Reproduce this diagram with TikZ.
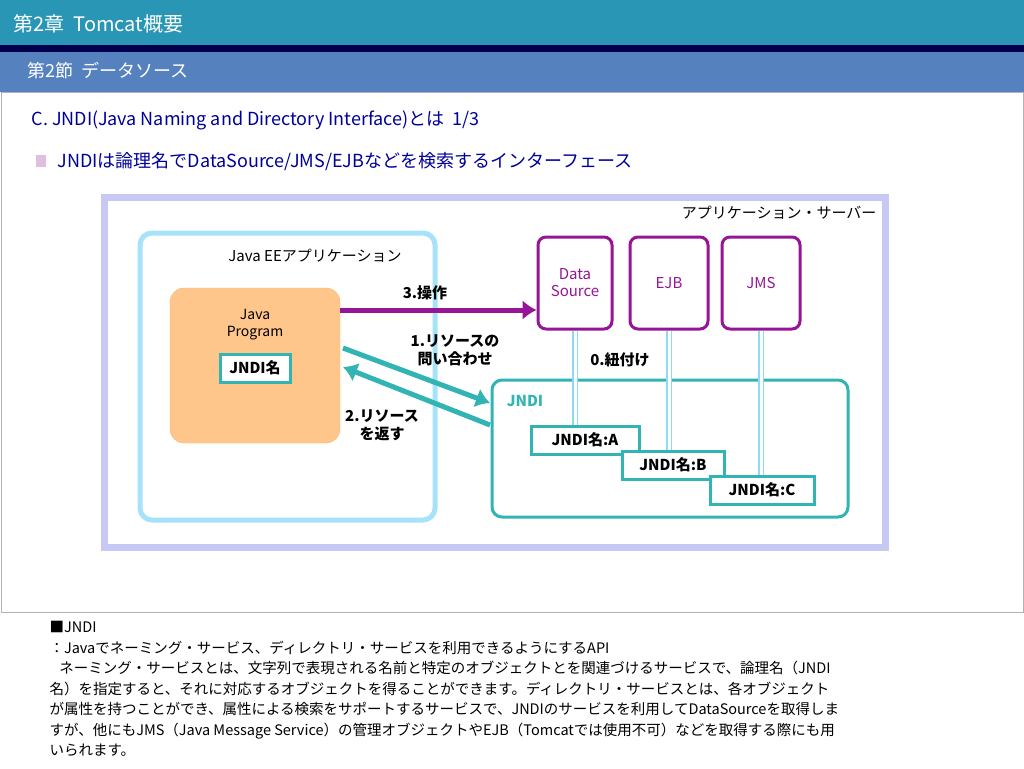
\documentclass[tikz,border=0pt]{standalone}
\usepackage{fontspec}
\usetikzlibrary{arrows.meta}
\setmainfont{Noto Sans CJK JP}
\definecolor{hdr}{RGB}{40,150,180}
\definecolor{sub}{RGB}{85,130,190}
\definecolor{pur}{RGB}{150,20,150}
\definecolor{tl}{RGB}{50,180,180}
\definecolor{lav}{RGB}{200,200,245}
\begin{document}
\begin{tikzpicture}[x=1pt,y=-1pt,
  purp/.style={draw=pur,line width=3pt,rounded corners=8pt,fill=white,text=pur,font=\fontsize{15}{17}\selectfont,align=center},
  tealbox/.style={draw=tl,line width=3pt,fill=white,font=\fontsize{15}{17}\selectfont\bfseries,inner sep=2pt},
  lbl/.style={font=\fontsize{15}{18}\selectfont\bfseries,align=center},
  dbl/.style={double=white,draw=cyan!45,line width=1.2pt,double distance=3pt}]
\useasboundingbox (0,0) rectangle (1024,768);
\fill[white] (0,0) rectangle (1024,768);
\fill[hdr] (0,0) rectangle (1024,45);
\fill[black!70!blue] (0,45) rectangle (1024,52);
\fill[sub] (0,52) rectangle (1024,92);
\draw[gray!60] (1,92) rectangle (1023,612);
\node[anchor=west,white,font=\fontsize{20}{22}\selectfont] (t1) at (10,24) {第2章\ \ Tomcat概要};
\node[anchor=west,white,font=\fontsize{18}{20}\selectfont] (t2) at (24,71) {第2節\ \ データソース};
\node[anchor=west,blue!60!black,font=\fontsize{18}{20}\selectfont] (t3) at (28,120) {C. JNDI(Java Naming and Directory Interface)とは\ \ 1/3};
\fill[violet!25] (36,155) rectangle (46,167);
\node[anchor=west,blue!60!black,font=\fontsize{18}{20}\selectfont] (t4) at (54,162) {JNDIは論理名でDataSource/JMS/EJBなどを検索するインターフェース};
% diagram
\draw[lav,line width=7pt] (104,197) rectangle (885,547);
\node[anchor=east,font=\fontsize{15}{17}\selectfont] (as) at (880,213) {アプリケーション・サーバー};
\draw[cyan!35,line width=5pt,rounded corners=12pt] (140,233) rectangle (435,520);
\node[font=\fontsize{15}{17}\selectfont] (ee) at (315,256) {Java EEアプリケーション};
\draw[orange!60,fill=orange!45,rounded corners=14pt] (170,288) rectangle (340,443);
\node[font=\fontsize{14}{17}\selectfont,align=center] (jp) at (255,325) {Java\\Program};
\node[tealbox,minimum width=70pt,minimum height=28pt] (jn) at (255,368) {JNDI名};
\node[purp,minimum width=74pt,minimum height=92pt] (ds) at (575,283) {Data\\Source};
\node[purp,minimum width=78pt,minimum height=92pt] (ejb) at (669,283) {EJB};
\node[purp,minimum width=78pt,minimum height=92pt] (jms) at (761,283) {JMS};
\draw[tl,line width=3pt,rounded corners=10pt] (492,380) rectangle (848,517);
\node[tl,font=\fontsize{15}{17}\selectfont\bfseries] (jl) at (525,401) {JNDI};
\node[tealbox,minimum width=108pt,minimum height=28pt] (a) at (585,440) {JNDI名:A};
\node[tealbox,minimum width=102pt,minimum height=28pt] (b) at (673,465) {JNDI名:B};
\node[tealbox,minimum width=104pt,minimum height=28pt] (c) at (762,490) {JNDI名:C};
\draw[dbl] (ds.south) -- (ds.south|-a.north);
\draw[dbl] (ejb.south) -- (ejb.south|-b.north);
\draw[dbl] (jms.south) -- (jms.south|-c.north);
\coordinate (p1) at (340,310);
\draw[pur,line width=5pt,-{Latex[length=14pt,width=20pt]}] (p1) -- (ds.west|-p1);
\coordinate (q1) at (343,348); \coordinate (q2) at (490,403);
\coordinate (r1) at (490,425); \coordinate (r2) at (343,367);
\draw[tl,line width=5pt,-{Latex[length=14pt,width=20pt]}] (q1) -- (q2);
\draw[tl,line width=5pt,-{Latex[length=14pt,width=20pt]}] (r1) -- (r2);
\node[lbl] (l3) at (425,293) {3.操作};
\node[lbl] (l1) at (455,350) {1.リソースの\\問い合わせ};
\node[lbl] (l2) at (382,425) {2.リソース\\を返す};
\node[lbl] (l0) at (620,360) {0.紐付け};
\node[anchor=north west,align=left,font=\fontsize{14.5}{20.5}\selectfont] (notes) at (46,618) {■JNDI\\：Javaでネーミング・サービス、ディレクトリ・サービスを利用できるようにするAPI\\
\ \ \ ネーミング・サービスとは、文字列で表現される名前と特定のオブジェクトとを関連づけるサービスで、論理名（JNDI\\
名）を指定すると、それに対応するオブジェクトを得ることができます。ディレクトリ・サービスとは、各オブジェクト\\
が属性を持つことができ、属性による検索をサポートするサービスで、JNDIのサービスを利用してDataSourceを取得しま\\
すが、他にもJMS（Java Message Service）の管理オブジェクトやEJB（Tomcatでは使用不可）などを取得する際にも用\\
いられます。};
\end{tikzpicture}
\end{document}
